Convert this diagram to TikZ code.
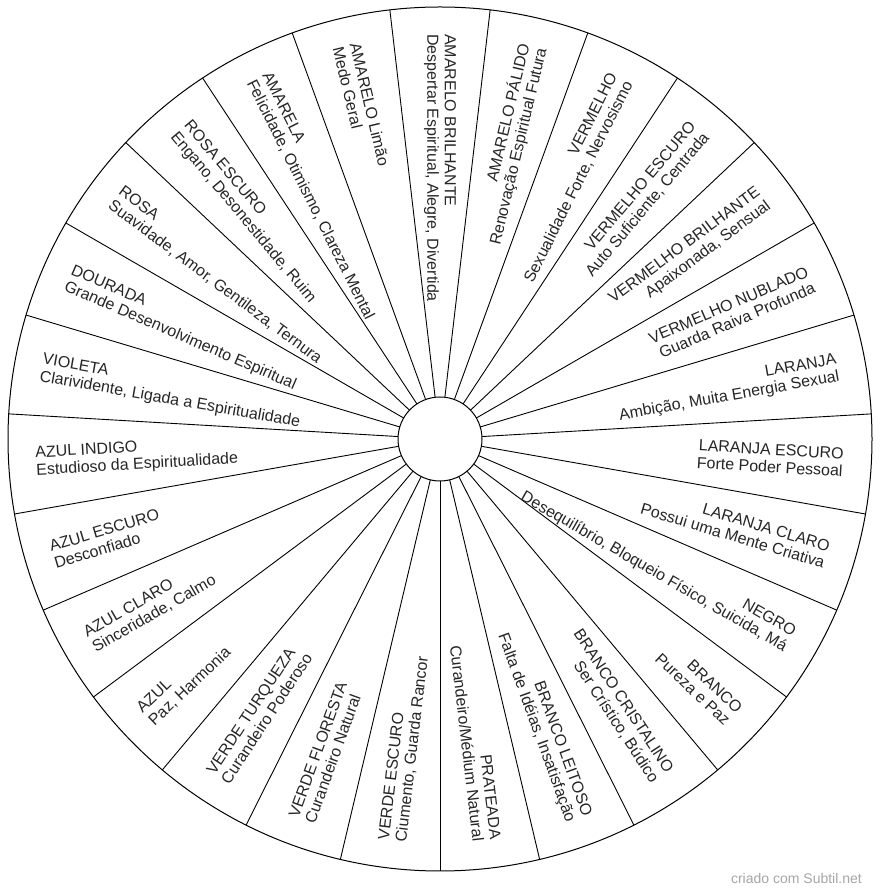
\documentclass[tikz,border=0pt]{standalone}
\usepackage{fontspec}
\setmainfont{Liberation Sans}
\usetikzlibrary{calc}
\begin{document}
\begin{tikzpicture}[x=1pt,y=1pt,
  lbl/.style={inner sep=0pt,font=\fontsize{16}{17.5}\selectfont,text=black!85}]
\useasboundingbox (0,0) rectangle (880,894);
\fill[white] (0,0) rectangle (880,894);
\coordinate (c) at (440,455);
\draw[line width=1pt] (c) circle[radius=432];
\node[circle,draw,line width=1pt,minimum size=84pt,inner sep=0pt] (hub) at (c) {};
\foreach \k in {0,...,26}{
  \draw[line width=0.9pt] ($(c)+({-90+13.3333*\k}:42)$) -- ($(c)+({-90+13.3333*\k}:432)$);
}
\foreach \t/\d [count=\i] in {
 {AMARELO PÁLIDO}/{Renovação Espiritual Futura},
 {VERMELHO}/{Sexualidade Forte, Nervosismo},
 {VERMELHO ESCURO}/{Auto Suficiente, Centrada},
 {VERMELHO BRILHANTE}/{Apaixonada, Sensual},
 {VERMELHO NUBLADO}/{Guarda Raiva Profunda},
 {LARANJA}/{Ambição, Muita Energia Sexual},
 {LARANJA ESCURO}/{Forte Poder Pessoal},
 {LARANJA CLARO}/{Possui uma Mente Criativa},
 {NEGRO}/{Desequilíbrio, Bloqueio Físico, Suicida, Má},
 {BRANCO}/{Pureza e Paz},
 {BRANCO CRISTALINO}/{Ser Crístico, Búdico},
 {BRANCO LEITOSO}/{Falta de Idéias, Insatisfação},
 {PRATEADA}/{Curandeiro/Médium Natural}}{
  \pgfmathsetmacro\m{76.6667-13.3333*(\i-1)}
  \node[lbl,anchor=east,align=right,rotate=\m] (r\i) at ($(c)+(\m:404)$) {\t\\\d};
}
\foreach \t/\d [count=\i] in {
 {VERDE ESCURO}/{Ciumento, Guarda Rancor},
 {VERDE FLORESTA}/{Curandeiro Natural},
 {VERDE TURQUEZA}/{Curandeiro Poderoso},
 {AZUL}/{Paz, Harmonia},
 {AZUL CLARO}/{Sinceridade, Calmo},
 {AZUL ESCURO}/{Desconfiado},
 {AZUL INDIGO}/{Estudioso da Espiritualidade},
 {VIOLETA}/{Clarividente, Ligada a Espiritualidade},
 {DOURADA}/{Grande Desenvolvimento Espiritual},
 {ROSA}/{Suavidade, Amor, Gentileza, Ternura},
 {ROSA ESCURO}/{Engano, Desonestidade, Ruim},
 {AMARELA}/{Felicidade, Otimismo, Clareza Mental},
 {AMARELO Limão}/{Medo Geral},
 {AMARELO BRILHANTE}/{Despertar Espiritual, Alegre, Divertida}}{
  \pgfmathsetmacro\m{-96.6667-13.3333*(\i-1)}
  \pgfmathsetmacro\rr{\m+180}
  \node[lbl,anchor=west,align=left,rotate=\rr] (l\i) at ($(c)+(\m:405)$) {\t\\\d};
}
\node[anchor=east,inner sep=0pt,text=black!35,font=\fontsize{14}{16}\selectfont] (wm) at (862,16) {criado com Subtil.net};
\end{tikzpicture}
\end{document}
